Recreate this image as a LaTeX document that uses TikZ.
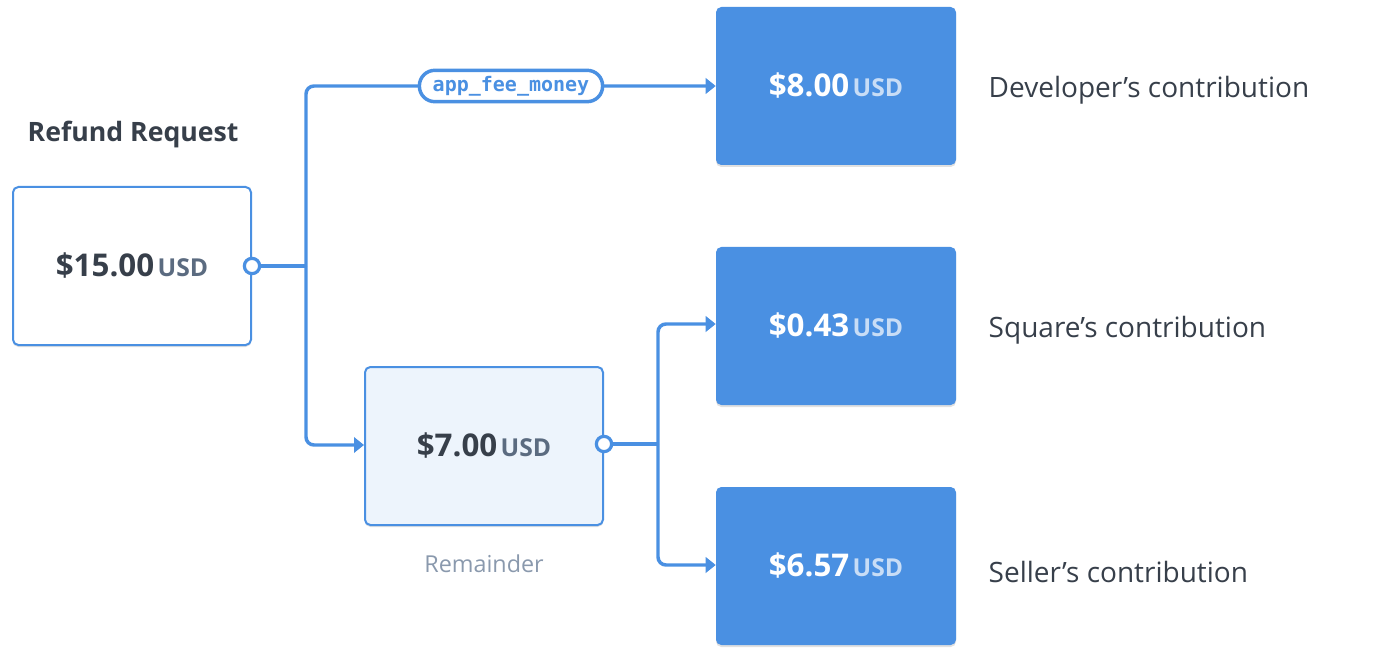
\documentclass[tikz,border=0pt]{standalone}
\usepackage{fontspec}
\setmainfont{Open Sans}
\setmonofont{DejaVu Sans Mono}
\usetikzlibrary{arrows.meta,shadows}
\definecolor{sqblue}{HTML}{4A90E2}
\definecolor{sqdark}{HTML}{373F4A}
\definecolor{sqgray}{HTML}{5B6B80}
\definecolor{sqlight}{HTML}{C8DDF6}
\definecolor{sqpale}{HTML}{EDF4FC}
\definecolor{sqmuted}{HTML}{8A99AD}
\begin{document}
\begin{tikzpicture}[x=0.75pt,y=-0.75pt,
  conn/.style={draw=sqblue,line width=2.6pt,rounded corners=6pt},
  arr/.style={conn,-{Triangle[length=7.5pt,width=11.5pt]}},
  boxbase/.style={rectangle,rounded corners=4pt,minimum width=178.5pt,minimum height=118.5pt,inner sep=0pt,
    drop shadow={shadow xshift=0pt,shadow yshift=-1.5pt,opacity=0.12,fill=black}},
  whitebox/.style={boxbase,draw=sqblue,line width=1.5pt,fill=white},
  palebox/.style={boxbase,draw=sqblue,line width=1.5pt,fill=sqpale},
  bluebox/.style={boxbase,fill=sqblue,minimum width=180pt},
  port/.style={circle,draw=sqblue,line width=2.4pt,fill=white,minimum size=11.5pt,inner sep=0pt},
  pill/.style={rectangle,rounded corners=11.5pt,draw=sqblue,line width=2.6pt,fill=white,
    inner xsep=10pt,minimum height=23.5pt,inner ysep=0pt,font=\fontsize{15}{18}\selectfont\ttfamily\bfseries,text=sqblue},
  desc/.style={anchor=west,font=\fontsize{21}{25}\selectfont,text=sqdark}
]
\useasboundingbox (0,0) rectangle (1400,656);
\newcommand{\amtdark}[1]{{\fontsize{23.5}{28}\selectfont\bfseries\color{sqdark}#1} {\fontsize{18.5}{22}\selectfont\bfseries\color{sqgray}USD}}
\newcommand{\amtwhite}[1]{{\fontsize{23.5}{28}\selectfont\bfseries\color{white}#1} {\fontsize{18.5}{22}\selectfont\bfseries\color{sqlight}USD}}

\node[anchor=base west,font=\fontsize{20}{24}\selectfont\bfseries,text=sqdark] (title) at (23,142) {Refund Request};

\node[whitebox] (ref) at (132,266) {\amtdark{\$15.00}};
\node[palebox] (rem) at (484,446) {\amtdark{\$7.00}};
\node[font=\fontsize{17.5}{21}\selectfont,text=sqmuted] (remlbl) at (484,564) {Remainder};

\node[bluebox] (dev) at (836,86) {\amtwhite{\$8.00}};
\node[bluebox] (sq) at (836,326) {\amtwhite{\$0.43}};
\node[bluebox] (sel) at (836,566) {\amtwhite{\$6.57}};

\node[desc] (devt) at (984,90) {Developer’s contribution};
\node[desc] (sqt) at (984,330) {Square’s contribution};
\node[desc] (selt) at (984,572) {Seller’s contribution};

\coordinate (j1) at (306,266);
\coordinate (j2) at (658,444);

\draw[conn] (ref.east |- j1) -- (j1);
\draw[arr] (j1) |- (dev.west);
\draw[arr] (j1) |- (rem.west |- 0,445);
\draw[conn] (rem.east |- j2) -- (j2);
\draw[arr] (j2) |- (sq.west |- 0,324);
\draw[arr] (j2) |- (sel.west |- 0,565);

\node[pill] (fee) at (511,86) {app\_fee\_money};

\node[port] (p1) at (ref.east |- j1) {};
\node[port] (p2) at (rem.east |- j2) {};
\end{tikzpicture}
\end{document}
